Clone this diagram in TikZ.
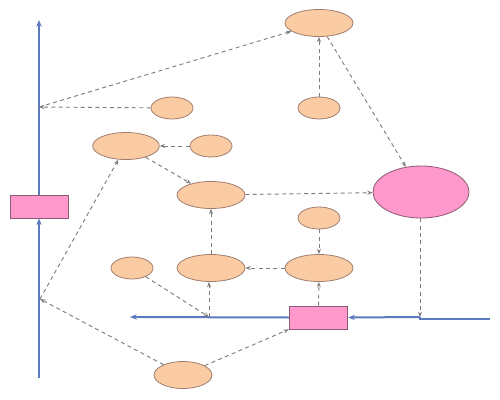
\documentclass[tikz,border=0pt]{standalone}
\usetikzlibrary{shapes.geometric,arrows.meta}
\definecolor{peach}{RGB}{251,203,164}
\definecolor{peachline}{RGB}{160,125,110}
\definecolor{pinkf}{RGB}{255,153,204}
\definecolor{pinkline}{RGB}{140,90,120}
\definecolor{axisblue}{RGB}{92,122,190}
\definecolor{dashgray}{RGB}{125,125,125}
\tikzset{
  pel/.style={ellipse,draw=peachline,fill=peach,line width=0.6pt,inner sep=0pt},
  bigel/.style={pel,minimum width=51pt,minimum height=20.25pt},
  smallel/.style={pel,minimum width=31.5pt,minimum height=16.5pt},
  pinkel/.style={ellipse,draw=pinkline,fill=pinkf,line width=0.6pt,inner sep=0pt,minimum width=72pt,minimum height=39pt},
  pinkbox/.style={rectangle,draw=pinkline,fill=pinkf,line width=0.6pt,inner sep=0pt,minimum width=43.5pt,minimum height=17.25pt},
  axisline/.style={draw=axisblue,line width=1.5pt,-{Stealth[length=5pt,width=4pt]}},
  axisplain/.style={draw=axisblue,line width=1.5pt},
  flow/.style={draw=dashgray,line width=0.7pt,dash pattern=on 3pt off 2.5pt,-{Stealth[length=4pt,width=3pt]}}
}
\begin{document}
\begin{tikzpicture}[x=0.75pt,y=-0.75pt]
\useasboundingbox (0,0) rectangle (500,400);
% nodes
\node[bigel] (e1) at (319,23) {};
\node[smallel] (e2) at (319,108) {};
\node[smallel] (e3) at (172,108) {};
\node[bigel,minimum width=50pt] (e4) at (126,146) {};
\node[smallel] (e5) at (211,146) {};
\node[bigel] (e6) at (211,195) {};
\node[pinkel] (pk) at (421,192) {};
\node[smallel] (e7) at (319,218) {};
\node[bigel] (e8) at (319,268) {};
\node[bigel] (e9) at (211,268) {};
\node[smallel] (e10) at (132,268) {};
\node[bigel,minimum width=43.5pt] (e11) at (183,375) {};
\node[pinkbox] (rl) at (39,206.5) {};
\node[pinkbox,minimum width=44pt] (rb) at (318.5,317.5) {};
% coordinates
\coordinate (top) at (39,20);
\coordinate (bot) at (39,378);
\coordinate (a1) at (39,107);
\coordinate (a2) at (40,299);
\coordinate (hr) at (490,319);
\coordinate (hs) at (420,317);
\coordinate (hl) at (130,317);
\coordinate (hp) at (209,317);
% blue axes
\draw[axisline] (bot) -- (rl.south);
\draw[axisline] (rl.north) -- (top);
\draw[axisplain] (hr) -| (hs);
\draw[axisline] (hs) -- (rb.east);
\draw[axisline] (rb.west) -- (hl);
% dashed flows
\draw[flow] (e3) -- (a1);
\draw[flow] (a1) -- (e1);
\draw[flow] (e2) -- (e1);
\draw[flow] (e1) -- (pk);
\draw[flow] (e5) -- (e4);
\draw[flow] (e4) -- (e6);
\draw[flow] (e6) -- (pk);
\draw[flow] (e9) -- (e6);
\draw[flow] (e8) -- (e9);
\draw[flow] (e7) -- (e8);
\draw[flow] (rb) -- (e8);
\draw[flow] (pk.south -| hs) -- (hs);
\draw[flow] (e10) -- (hp);
\draw[flow] (hp) -- (hp |- e9.south);
\draw[flow] (a2) -- (e4);
\draw[flow] (e11) -- (a2);
\draw[flow] (e11) -- (rb.south west);
\end{tikzpicture}
\end{document}
